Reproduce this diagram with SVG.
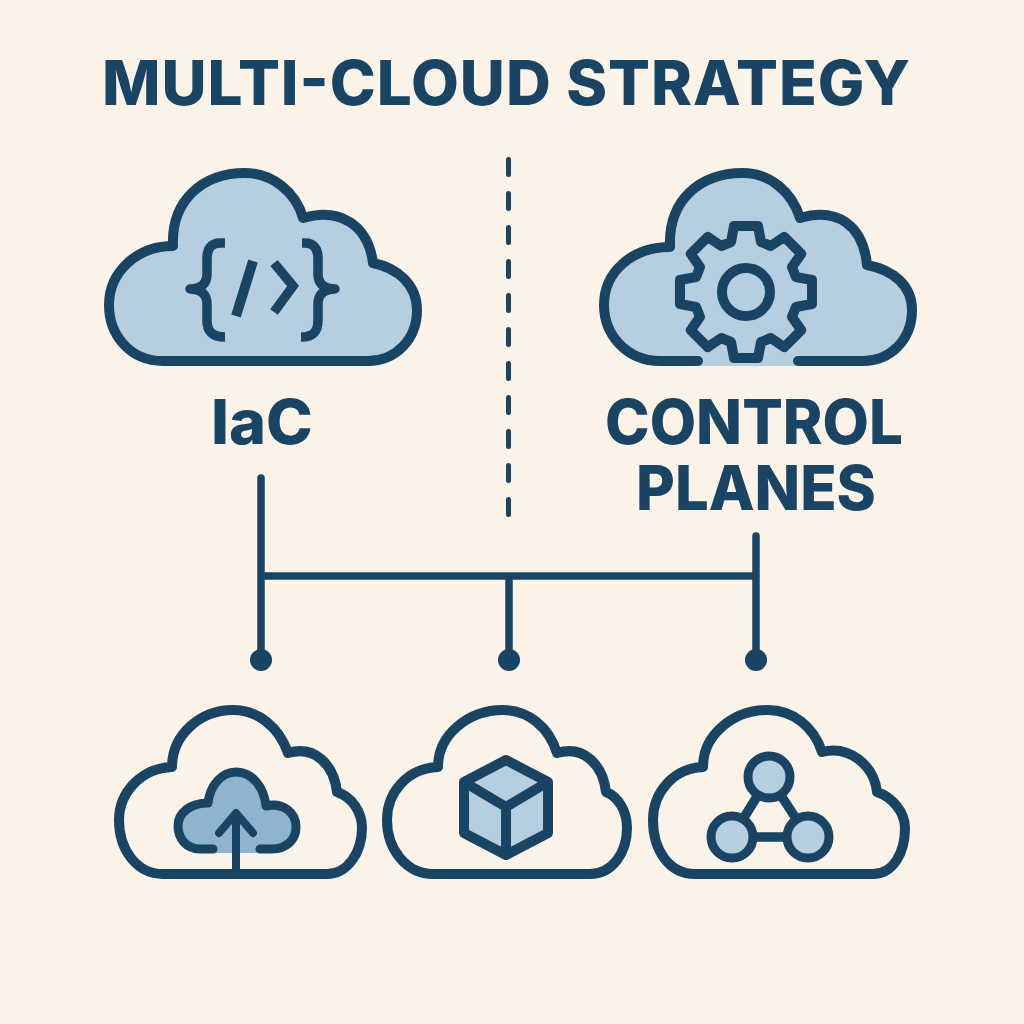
<svg xmlns="http://www.w3.org/2000/svg" width="1024" height="1024" viewBox="0 0 1024 1024">
<style>
.ln{fill:none;stroke:#1a4464;stroke-linecap:round;stroke-linejoin:round}
.butt{stroke-linecap:butt}
.cl{fill:#b6cfe0;stroke:#1a4464;stroke-width:10;stroke-linejoin:round}
.out{fill:#fbf3e7;stroke:#1a4464;stroke-width:10;stroke-linejoin:round}
.dot{fill:#1a4464}
.node{fill:#b6cfe0;stroke:#1a4464;stroke-width:9}
.t{font-family:Inter,"Liberation Sans",sans-serif;font-weight:800;fill:#1a4464;text-anchor:middle}
</style>
<rect width="1024" height="1024" fill="#fbf3e7"/>
<g id="title"><text class="t" x="506" y="105" font-size="62" textLength="808" lengthAdjust="spacing">MULTI-CLOUD STRATEGY</text></g>
<g id="connectors">
<path class="ln" stroke-width="5" stroke-dasharray="15 19" d="M508.500 159.500V515"/>
<path class="ln" stroke-width="7.500" d="M261 478V660M756 536V660M509 576V660M261 576H756"/>
<circle class="dot" cx="261" cy="660" r="11"/><circle class="dot" cx="509" cy="660" r="11"/><circle class="dot" cx="756" cy="660" r="11"/>
</g>
<g id="iac">
<path class="cl" d="M163 361C130 361 109 335 109 305C109 272 137 246 173 246C171 200 203 173 245 173C272 173 296 192 303 218C340 207 368 225 373 263C398 268 417 285 417 310C417 340 395 361 368 361Z"/>
<path class="ln butt" stroke-width="9.500" d="M225 243H220C211 243 207 249 207 258V274C207 282 203 289 190 289C203 289 207 296 207 304V320C207 331 212 337 225 337"/>
<path class="ln butt" stroke-width="9.500" d="M302 243H305C314 243 318 249 318 258V274C318 282 322 289 335 289C322 289 318 296 318 304V320C318 331 314 337 301 337"/>
<path class="ln butt" stroke-width="10" d="M253 261L236 316"/>
<path class="ln butt" stroke-width="9.500" style="stroke-linejoin:miter" d="M274 263L293 286L274 312"/>
<text class="t" x="262" y="444" font-size="62" textLength="102" lengthAdjust="spacingAndGlyphs">IaC</text>
</g>
<g id="control-planes">
<path d="M660 361C627 361 604 335 604 305C604 272 632 247 670 247C668 200 700 173 743 173C770 173 792 192 800 218C837 207 863 225 867 265C893 270 912 285 912 310C912 340 890 361 863 361H798V366H698V361Z" fill="#b6cfe0"/>
<path class="ln" stroke-width="10" d="M698 361H660C627 361 604 335 604 305C604 272 632 247 670 247C668 200 700 173 743 173C770 173 792 192 800 218C837 207 863 225 867 265C893 270 912 285 912 310C912 340 890 361 863 361H798"/>
<path class="ln" stroke-width="10" d="M731 242L734 226H758L761 242L770.800 246L784.200 236.800L801.200 253.800L792 267.200L796 277L812 280V304L796 307L792 316.800L801.200 330.200L784.200 347.200L770.800 338L761 342L758 358H734L731 342L721.200 338L707.800 347.200L690.800 330.200L700 316.800L696 307L680 304V280L696 277L700 267.200L690.800 253.800L707.800 236.800L721.200 246Z"/>
<circle class="ln" stroke-width="10" cx="746" cy="292" r="24"/>
<text class="t" x="754" y="444" font-size="62" textLength="298" lengthAdjust="spacingAndGlyphs">CONTROL</text>
<text class="t" x="756" y="510" font-size="62" textLength="240" lengthAdjust="spacingAndGlyphs">PLANES</text>
</g>
<g id="cloud-upload">
<path class="out" d="M163 874C137 874 119 850 119 820C119 792 142 768 172 767C172 735 200 710 233 710C258 710 279 727 288 753C315 745 334 765 337 792C352 797 362 812 362 828C362 853 347 874 327 874Z"/>
<path fill="#8fb4d0" d="M200 849C186 849 178 838 178 826C178 813 190 803 208 803C210 785 222 772 236 772C252 772 264 787 266 806C284 802 296 813 296 827C296 840 286 849 272 849H260V853H213V849Z"/>
<path class="ln" stroke-width="9" d="M213 849H200C186 849 178 838 178 826C178 813 190 803 208 803C210 785 222 772 236 772C252 772 264 787 266 806C284 802 296 813 296 827C296 840 286 849 272 849H260"/>
<path class="ln" stroke-width="8" d="M236 874V815M219 833L236 813L253 833"/>
</g>
<g id="cloud-cube">
<path class="out" d="M433 874C407 874 387 850 387 820C387 792 408 768 438 767C438 735 468 710 503 710C528 710 549 727 557 753C584 745 603 765 606 792C619 797 627 812 627 828C627 853 612 874 590 874Z"/>
<path d="M506 760L548 782V833L506 855L464 833V782Z" fill="#b6cfe0"/>
<path class="ln butt" stroke-width="10" d="M506 760L548 782V833L506 855L464 833V782ZM464 782L506 807L548 782M506 807V855"/>
</g>
<g id="cloud-graph">
<path class="out" d="M695 874C669 874 653 850 653 820C653 792 674 768 703 767C703 735 733 710 768 710C793 710 814 727 822 752C849 745 874 765 877 792C892 797 905 812 905 828C905 853 893 874 873 874Z"/>
<path class="ln" stroke-width="9.500" d="M769 777L732 837H808Z"/>
<circle class="node" cx="769" cy="777" r="21"/>
<circle class="node" cx="732" cy="837" r="21"/>
<circle class="node" cx="808" cy="837" r="21"/>
</g>
</svg>
